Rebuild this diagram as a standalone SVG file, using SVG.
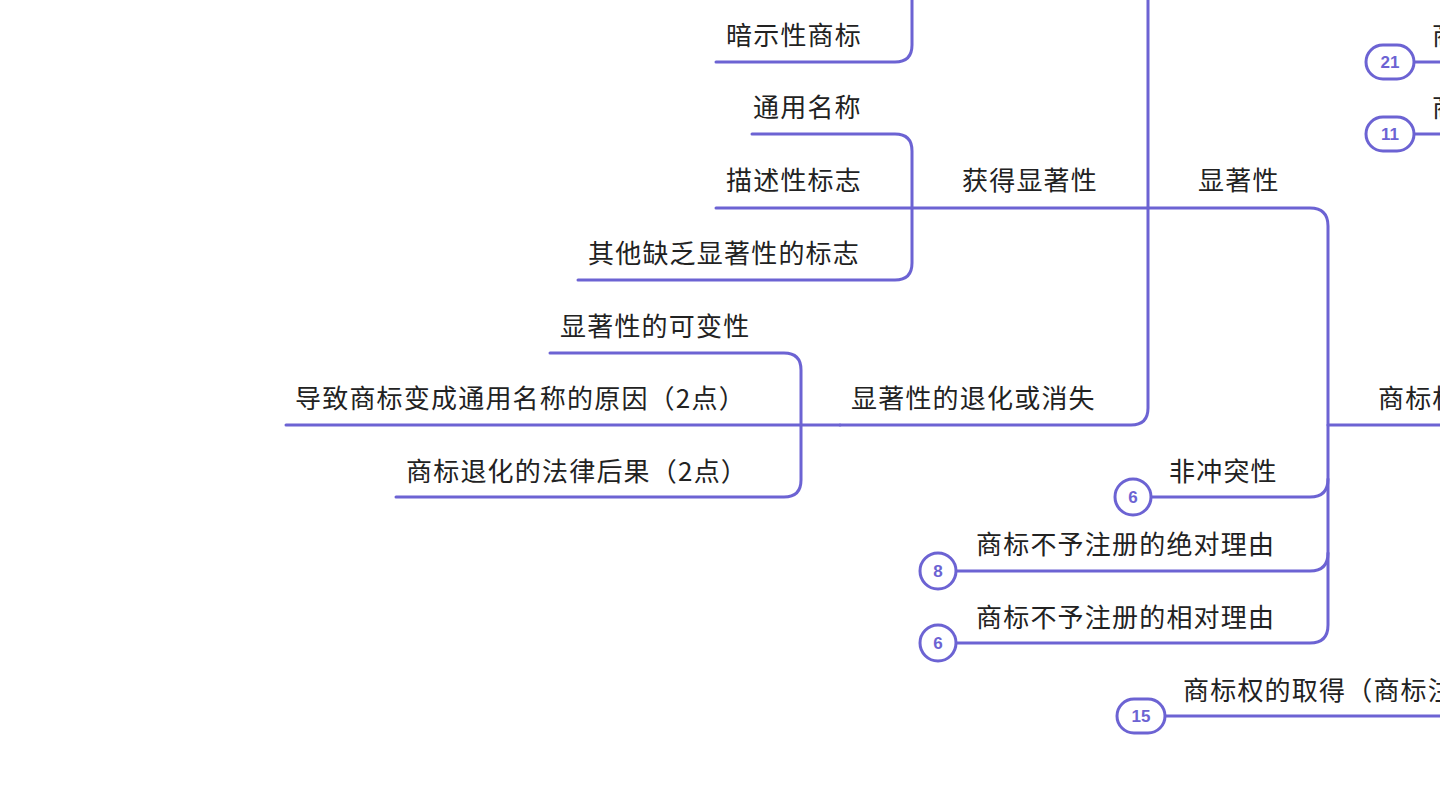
<svg xmlns="http://www.w3.org/2000/svg" width="1440" height="810" viewBox="0 0 1440 810">
<style>
.l{fill:none;stroke:#6c63d3;stroke-width:3;stroke-linecap:round}
.t{font-family:"Noto Sans CJK SC","Noto Sans",sans-serif;font-size:26px;letter-spacing:1.2px;fill:#222}
.b{fill:#fff;stroke:#6c63d3;stroke-width:3}
.n{font-family:"Liberation Sans",Arial,sans-serif;font-size:17px;font-weight:bold;fill:#6c63d3;text-anchor:middle}
</style>
<rect width="1440" height="810" fill="#fff"/>
<g id="connectors">
<path class="l" d="M1148 0V408q0 17-17 17H840"/>
<path class="l" d="M912 0V45q0 17-17 17H716"/>
<path class="l" d="M752 134H895q17 0 17 17V263q0 17-17 17H578"/>
<path class="l" d="M716 208H1310q18 0 18 18V625q0 18-18 18H956"/>
<path class="l" d="M1328 425H1440"/>
<path class="l" d="M1150 497H1310q18 0 18-18"/>
<path class="l" d="M956 571H1310q18 0 18-18"/>
<path class="l" d="M550 353H784q17 0 17 17V480q0 17-17 17H396"/>
<path class="l" d="M286 425H840"/>
<path class="l" d="M1165 716H1440"/>
<path class="l" d="M1414 62H1440"/>
<path class="l" d="M1414 134H1440"/>
</g>
<g id="n1"><text class="t" x="726" y="45">暗示性商标</text></g>
<g id="n2"><text class="t" x="753" y="117">通用名称</text></g>
<g id="n3"><text class="t" x="726" y="190">描述性标志</text></g>
<g id="n4"><text class="t" x="588" y="263">其他缺乏显著性的标志</text></g>
<g id="n5"><text class="t" x="962" y="190">获得显著性</text></g>
<g id="n6"><text class="t" x="1198" y="190">显著性</text></g>
<g id="n7"><text class="t" x="560" y="336">显著性的可变性</text></g>
<g id="n8"><text class="t" x="295" y="408">导致商标变成通用名称的原因（2点）</text></g>
<g id="n9"><text class="t" x="406" y="481">商标退化的法律后果（2点）</text></g>
<g id="n10"><text class="t" x="851" y="408">显著性的退化或消失</text></g>
<g id="n11"><text class="t" x="1378" y="408">商标权</text></g>
<g id="n12"><text class="t" x="1169" y="481">非冲突性</text><circle class="b" cx="1133" cy="497" r="18"/><text class="n" x="1133" y="503">6</text></g>
<g id="n13"><text class="t" x="976" y="554">商标不予注册的绝对理由</text><circle class="b" cx="938" cy="571" r="18"/><text class="n" x="938" y="577">8</text></g>
<g id="n14"><text class="t" x="976" y="627">商标不予注册的相对理由</text><circle class="b" cx="938" cy="643" r="18"/><text class="n" x="938" y="649">6</text></g>
<g id="n15"><text class="t" x="1183" y="700">商标权的取得（商标注</text><rect class="b" x="1117" y="699" width="48" height="34" rx="17"/><text class="n" x="1141" y="722">15</text></g>
<g id="n16"><text class="t" x="1432" y="45">商</text><rect class="b" x="1366" y="45" width="48" height="34" rx="17"/><text class="n" x="1390" y="68">21</text></g>
<g id="n17"><text class="t" x="1432" y="117">商</text><rect class="b" x="1366" y="117" width="48" height="34" rx="17"/><text class="n" x="1390" y="140">11</text></g>
</svg>
